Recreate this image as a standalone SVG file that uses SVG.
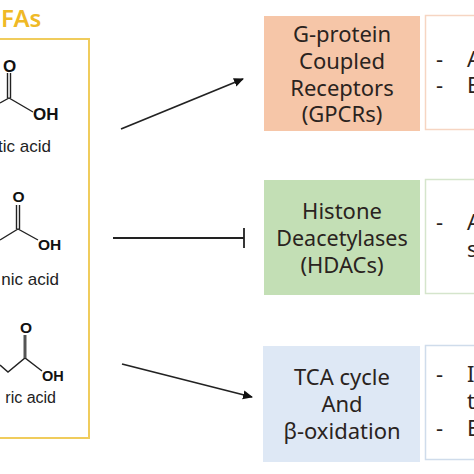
<svg xmlns="http://www.w3.org/2000/svg" width="474" height="474" viewBox="0 0 474 474">
<style>
.t{font-family:"Noto Sans","Open Sans",sans-serif;font-size:22px;fill:#2a2320;text-anchor:middle}
.s{font-family:"Noto Sans","Open Sans",sans-serif;font-size:22px;fill:#2a2320}
.a{font-family:"Liberation Sans",Arial,sans-serif;font-size:16.500px;fill:#222;text-anchor:end}
.at{font-family:"Liberation Sans",Arial,sans-serif;font-size:15.500px;font-weight:bold;fill:#111}
.b{fill:none;stroke:#222;stroke-width:1.400}
.c{fill:none;stroke:#222;stroke-width:1.800}
</style>
<defs><marker id="ah" markerUnits="userSpaceOnUse" markerWidth="12" markerHeight="10" refX="9" refY="4.500" orient="auto"><path d="M0 0L10 4.500L0 9Z" fill="#111"/></marker></defs>
<g id="scfa">
<text x="1" y="27" font-family="Noto Sans,Open Sans,sans-serif" font-size="24" font-weight="600" fill="#EFB926">FAs</text>
<path d="M-3 39H89V438H-3Z" fill="#fff" stroke="#F0CC5C" stroke-width="2"/>
</g>
<g id="acid1">
<path class="b" d="M0 103L9 98L33 112M7.500 73V98M10.500 73V98"/>
<text class="at" x="3" y="72" style="font-size:17px">O</text><text class="at" x="33" y="120" style="font-size:17px">OH</text>
<text class="a" x="51" y="152" style="font-size:17px">tic acid</text>
</g>
<g id="acid2">
<path class="b" d="M0 240L18 229L38 240M16.500 205V229M19.500 205V229"/>
<text class="at" x="12.500" y="202">O</text><text class="at" x="38" y="250">OH</text>
<text class="a" x="59" y="285" style="font-size:17px">nic acid</text>
</g>
<g id="acid3">
<path class="b" d="M0 365L8 372L25 358L42 371"/>
<path d="M25 335V358" fill="none" stroke="#555" stroke-width="3"/>
<text class="at" x="20" y="333">O</text><text class="at" x="42" y="381" style="font-size:14.500px">OH</text>
<text class="a" x="56" y="403" style="font-size:16px">ric acid</text>
</g>
<g id="connectors">
<path class="c" d="M121 129L243 79" marker-end="url(#ah)"/>
<path class="c" d="M113 238H244M244 228V248"/>
<path class="c" d="M122 364L252 397" marker-end="url(#ah)"/>
</g>
<g id="gpcr">
<rect x="264" y="16" width="156" height="115" fill="#F6C6A8"/>
<text class="t" x="342" y="42">G-protein</text><text class="t" x="342" y="69">Coupled</text><text class="t" x="342" y="96">Receptors</text><text class="t" x="342" y="122">(GPCRs)</text>
</g>
<g id="gpcr-effects">
<rect x="425.500" y="15.500" width="60" height="114" fill="#fff" stroke="#F6D5C2" stroke-width="1.500"/>
<text class="s" x="436" y="67">-</text><text class="s" x="467" y="67">A</text><text class="s" x="436" y="93">-</text><text class="s" x="467" y="93">E</text>
</g>
<g id="hdac">
<rect x="264" y="180" width="156" height="115" fill="#C3DFB5"/>
<text class="t" x="342" y="219">Histone</text><text class="t" x="342" y="246" style="font-size:21.500px">Deacetylases</text><text class="t" x="342" y="273">(HDACs)</text>
</g>
<g id="hdac-effects">
<rect x="425.500" y="179.500" width="60" height="114" fill="#fff" stroke="#D5E5CC" stroke-width="1.500"/>
<text class="s" x="436" y="230">-</text><text class="s" x="467" y="230">A</text><text class="s" x="467" y="257">s</text>
</g>
<g id="tca">
<rect x="263" y="346" width="157" height="116" fill="#DEE8F5"/>
<text class="t" x="342" y="385">TCA cycle</text><text class="t" x="342" y="412">And</text><text class="t" x="342" y="439">β-oxidation</text>
</g>
<g id="tca-effects">
<rect x="425.500" y="345.500" width="60" height="114" fill="#fff" stroke="#CFDCEB" stroke-width="1.500"/>
<text class="s" x="436" y="382">-</text><text class="s" x="467" y="382">I</text><text class="s" x="467" y="409">t</text><text class="s" x="436" y="436">-</text><text class="s" x="467" y="436">E</text>
</g>
</svg>
